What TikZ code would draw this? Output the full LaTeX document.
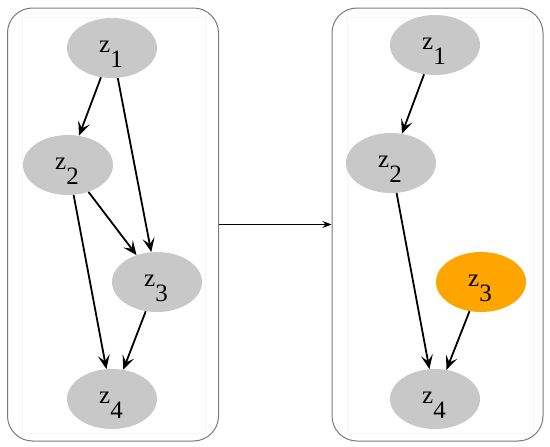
\documentclass[tikz,border=0pt]{standalone}
\usepackage{fontspec}
\setmainfont{Liberation Serif}
\usetikzlibrary{arrows.meta,shapes.geometric}
\definecolor{nodegray}{HTML}{C8C8C8}
\definecolor{nodeorange}{HTML}{FFA500}
\definecolor{boxgray}{HTML}{7A7A7A}
\begin{document}
\begin{tikzpicture}[x=1pt,y=-1pt,
  nd/.style={ellipse,fill=nodegray,minimum width=90pt,minimum height=60pt,inner sep=0pt},
  ndo/.style={nd,fill=nodeorange},
  lbl/.style={anchor=base,font=\fontsize{25}{25}\selectfont,inner sep=0pt},
  cluster/.style={draw=boxgray,line width=1pt,rounded corners=25pt},
  faint/.style={draw=black!4,line width=0.6pt},
  edge/.style={line width=1.8pt,-{Stealth[length=14pt,width=12pt,inset=6pt]}},
  link/.style={line width=1.1pt,-{Stealth[length=9pt,width=7pt]}}]
\useasboundingbox (0,0) rectangle (550,447);
% clusters
\draw[faint] (22,17) rectangle (205,433);
\draw[faint] (347,17) rectangle (533,433);
\node[cluster,minimum width=211pt,minimum height=433pt,inner sep=0pt] (L) at (113,224.5) {};
\node[cluster,minimum width=211pt,minimum height=433pt,inner sep=0pt] (R) at (437.5,224.5) {};
% left nodes
\node[nd] (a1) at (112,48) {};
\node[nd] (a2) at (68,165) {};
\node[nd] (a3) at (157,282) {};
\node[nd] (a4) at (112,399) {};
% right nodes
\node[nd] (b1) at (435,45) {};
\node[nd] (b2) at (391,163) {};
\node[ndo] (b3) at (481,282) {};
\node[nd] (b4) at (435,399) {};
% labels
\foreach \n/\t in {a1/1,a2/2,a3/3,a4/4,b1/1,b2/2,b3/3,b4/4}{
  \node[lbl] at ([xshift=-1pt,yshift=-4.5pt]\n.center) {z\raisebox{-15pt}{\t}};
}
% edges
\draw[edge] (a1) -- (a2);
\draw[edge] (a1) -- (a3);
\draw[edge] (a2) -- (a3);
\draw[edge] (a2) -- (a4);
\draw[edge] (a3) -- (a4);
\draw[edge] (b1) -- (b2);
\draw[edge] (b2) -- (b4);
\draw[edge] (b3) -- (b4);
% connector between clusters
\draw[link] (L.east) -- (R.west);
\end{tikzpicture}
\end{document}
